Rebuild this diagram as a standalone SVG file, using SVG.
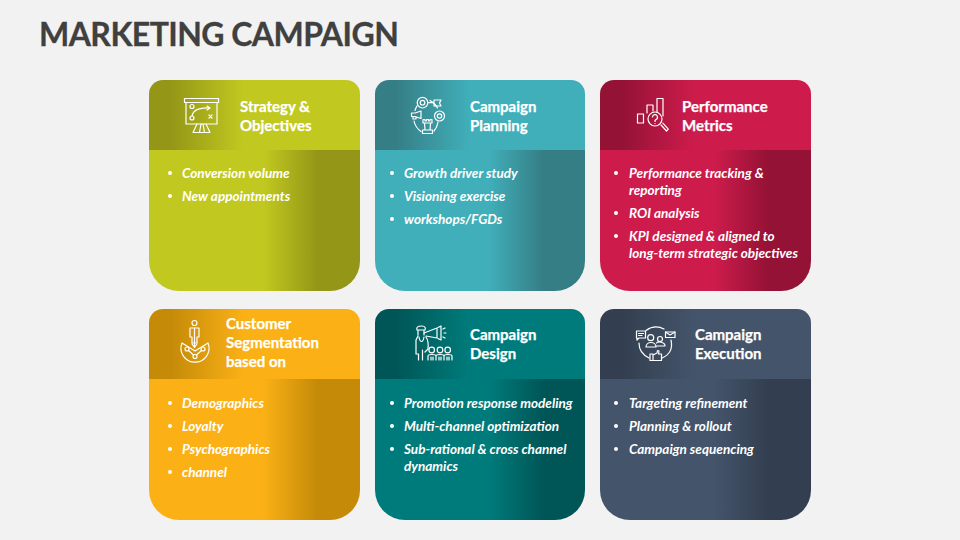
<svg xmlns="http://www.w3.org/2000/svg" width="960" height="540" viewBox="0 0 960 540">
<style>
.t{font-family:Lato,"Liberation Sans",sans-serif;font-weight:700;font-size:15px;fill:#fff;stroke:#fff;stroke-width:.25}
.b{font-family:Lato,"Liberation Sans",sans-serif;font-style:italic;font-weight:700;font-size:13.55px;fill:#fff}
.d{fill:#fff}
.i{fill:none;stroke:#fff;stroke-width:1.2;stroke-linecap:round;stroke-linejoin:round}
.title{font-family:Lato,"Liberation Sans",sans-serif;font-weight:700;font-size:32px;letter-spacing:-.55px;fill:#404040;stroke:#404040;stroke-width:.3}
</style>
<defs>
<linearGradient id="h1"><stop offset=".1" stop-color="#939617"/><stop offset=".45" stop-color="#c1c920"/></linearGradient>
<linearGradient id="b1"><stop offset=".54" stop-color="#c1c920"/><stop offset=".8" stop-color="#939617"/></linearGradient>
<linearGradient id="h2"><stop offset=".1" stop-color="#367e86"/><stop offset=".45" stop-color="#40afb9"/></linearGradient>
<linearGradient id="b2"><stop offset=".54" stop-color="#40afb9"/><stop offset=".8" stop-color="#367e86"/></linearGradient>
<linearGradient id="h3"><stop offset=".1" stop-color="#941235"/><stop offset=".45" stop-color="#cd1c4c"/></linearGradient>
<linearGradient id="b3"><stop offset=".54" stop-color="#cd1c4c"/><stop offset=".8" stop-color="#941235"/></linearGradient>
<linearGradient id="h4"><stop offset=".1" stop-color="#c48a08"/><stop offset=".45" stop-color="#fbb116"/></linearGradient>
<linearGradient id="b4"><stop offset=".54" stop-color="#fbb116"/><stop offset=".8" stop-color="#c48a08"/></linearGradient>
<linearGradient id="h5"><stop offset=".1" stop-color="#005657"/><stop offset=".45" stop-color="#007b7b"/></linearGradient>
<linearGradient id="b5"><stop offset=".54" stop-color="#007b7b"/><stop offset=".8" stop-color="#005657"/></linearGradient>
<linearGradient id="h6"><stop offset=".1" stop-color="#333f50"/><stop offset=".45" stop-color="#44546a"/></linearGradient>
<linearGradient id="b6"><stop offset=".54" stop-color="#44546a"/><stop offset=".8" stop-color="#333f50"/></linearGradient>
</defs>
<rect width="960" height="540" fill="#f2f2f2"/>
<text class="title" x="39" y="46">MARKETING CAMPAIGN</text>

<g id="node-strategy">
<path d="M149 150V94a14 14 0 0 1 14-14H346a14 14 0 0 1 14 14V150Z" fill="url(#h1)"/>
<path d="M149 150H360V261a30 30 0 0 1-30 30H179a30 30 0 0 1-30-30Z" fill="url(#b1)"/>
<g class="i"><rect x="184.500" y="98.500" width="34" height="4"/><path d="M186 102.500V124H217V102.500"/><circle cx="192" cy="106.500" r="2"/><circle cx="192" cy="118" r="2"/><path d="M192 116C193 110 200 107 210 108M207 106l3 2-3 2M209 115l3 3M212 115l-3 3"/><path d="M197 124l-4 8.500M201 124l-1.500 8.500M203 124l1.500 8.500M206 124l4 8.500M193 132.500H210"/></g>
<text class="t"><tspan x="240" y="112">Strategy &amp;</tspan><tspan x="240" y="131">Objectives</tspan></text>
<circle class="d" cx="170" cy="173" r="2"/><text class="b" x="182" y="178">Conversion volume</text>
<circle class="d" cx="170" cy="196" r="2"/><text class="b" x="182" y="201">New appointments</text>
</g>

<g id="node-planning">
<path d="M375 150V94a14 14 0 0 1 14-14H571a14 14 0 0 1 14 14V150Z" fill="url(#h2)"/>
<path d="M375 150H585V261a30 30 0 0 1-30 30H405a30 30 0 0 1-30-30Z" fill="url(#b2)"/>
<g class="i"><circle cx="422.500" cy="102.700" r="5.300"/><circle cx="422.500" cy="102.700" r="2.300"/><path d="M428 102.700H434M434 100H441L439.500 103 441 106H434Z"/><circle cx="439.500" cy="116" r="5"/><circle cx="439.500" cy="116" r="2.200"/><path d="M411.500 113H415L421 111V118.500L415 116.500H411.500ZM413 116.500V119H416V117"/><path d="M414 121A17 17 0 0 0 421 131.500M438 122A17 17 0 0 1 434 131M415 110.500A17 17 0 0 1 417 106M430 100.500A17 17 0 0 1 437.500 108"/><path d="M423 119.500V123H432V119.500H430V121H428.500V119.500H426.500V121H425V119.500ZM424.500 123L425 130H430L430.500 123M422.500 130H432.500V133.500H422.500Z"/></g>
<text class="t"><tspan x="470" y="112">Campaign</tspan><tspan x="470" y="131">Planning</tspan></text>
<circle class="d" cx="392" cy="173" r="2"/><text class="b" x="404" y="178">Growth driver study</text>
<circle class="d" cx="392" cy="196" r="2"/><text class="b" x="404" y="201">Visioning exercise</text>
<circle class="d" cx="392" cy="219" r="2"/><text class="b" x="404" y="224">workshops/FGDs</text>
</g>

<g id="node-metrics">
<path d="M600 150V94a14 14 0 0 1 14-14H797a14 14 0 0 1 14 14V150Z" fill="url(#h3)"/>
<path d="M600 150H811V261a30 30 0 0 1-30 30H630a30 30 0 0 1-30-30Z" fill="url(#b3)"/>
<g class="i"><rect x="637.500" y="114" width="6" height="9"/><path d="M647 113V105H653V111M657 112V98.500H663V116"/><circle cx="655" cy="119" r="7"/><path d="M661 125l5.500 6 1.800-1.800-5.500-6"/><path d="M652.500 117a2.500 2.500 0 1 1 3.500 2.500l-1 1v1M655 123.500v.1"/></g>
<text class="t"><tspan x="682" y="112">Performance</tspan><tspan x="682" y="131">Metrics</tspan></text>
<circle class="d" cx="616" cy="173" r="2"/><text class="b"><tspan x="629" y="178">Performance tracking &amp;</tspan><tspan x="629" y="195">reporting</tspan></text>
<circle class="d" cx="616" cy="213" r="2"/><text class="b" x="629" y="218">ROI analysis</text>
<circle class="d" cx="616" cy="236" r="2"/><text class="b"><tspan x="629" y="241">KPI designed &amp; aligned to</tspan><tspan x="629" y="258">long-term strategic objectives</tspan></text>
</g>

<g id="node-segmentation">
<path d="M149 379V323a14 14 0 0 1 14-14H346a14 14 0 0 1 14 14V379Z" fill="url(#h4)"/>
<path d="M149 379H360V490a30 30 0 0 1-30 30H179a30 30 0 0 1-30-30Z" fill="url(#b4)"/>
<g class="i"><circle cx="194.500" cy="323" r="2.500"/><path d="M190 328H199V337H197V343H192V337H190Z"/><path d="M194.500 328V347M192 344L194.500 347.500 197 344"/><path d="M182 343A14 14 0 1 0 208 343L195 351Z"/><circle cx="187" cy="349" r="2"/><circle cx="203" cy="349" r="2"/><circle cx="195" cy="356.500" r="2"/><path d="M188.500 350.500L193.500 355M201.500 350.500L196.500 355"/></g>
<text class="t"><tspan x="226" y="329">Customer</tspan><tspan x="226" y="348">Segmentation</tspan><tspan x="226" y="367">based on</tspan></text>
<circle class="d" cx="170" cy="403" r="2"/><text class="b" x="182" y="408">Demographics</text>
<circle class="d" cx="170" cy="426" r="2"/><text class="b" x="182" y="431">Loyalty</text>
<circle class="d" cx="170" cy="449" r="2"/><text class="b" x="182" y="454">Psychographics</text>
<circle class="d" cx="170" cy="472" r="2"/><text class="b" x="182" y="477">channel</text>
</g>

<g id="node-design">
<path d="M375 379V323a14 14 0 0 1 14-14H571a14 14 0 0 1 14 14V379Z" fill="url(#h5)"/>
<path d="M375 379H585V490a30 30 0 0 1-30 30H405a30 30 0 0 1-30-30Z" fill="url(#b5)"/>
<g class="i" stroke-width="1"><path d="M418 335V330H424V335M417 330C416 327 418 326 422 326 425 326 426 328 425 330Z"/><path d="M424 333L437 328V338L426 336"/><path d="M438 327.500L441 326V340L438 338.500M444 333H446M443 329L445 328M443 337L445 338"/><path d="M418 336L416 340V354H418.500V360M422.500 360V350M426 337C428 340 428.500 345 428 349L425 352"/><path d="M419 337C420 343 423 343 424 337"/><circle cx="431.700" cy="350" r="2.800"/><circle cx="440" cy="350" r="2.800"/><circle cx="447.700" cy="350" r="2.800"/><path d="M428 360V356C428 354 436 354 436 356V360M436 360V356C436 354 444 354 444 356V360M444 360V356C444 354 452 354 452 356V360M431 360V357M433 360V357M439 360V357M441 360V357M447 360V357M449 360V357"/></g>
<text class="t"><tspan x="470" y="340">Campaign</tspan><tspan x="470" y="359">Design</tspan></text>
<circle class="d" cx="392" cy="403" r="2"/><text class="b" x="404" y="408">Promotion response modeling</text>
<circle class="d" cx="392" cy="426" r="2"/><text class="b" x="404" y="431">Multi-channel optimization</text>
<circle class="d" cx="392" cy="449" r="2"/><text class="b"><tspan x="404" y="454">Sub-rational &amp; cross channel</tspan><tspan x="404" y="471">dynamics</tspan></text>
</g>

<g id="node-execution">
<path d="M600 379V323a14 14 0 0 1 14-14H797a14 14 0 0 1 14 14V379Z" fill="url(#h6)"/>
<path d="M600 379H811V490a30 30 0 0 1-30 30H630a30 30 0 0 1-30-30Z" fill="url(#b6)"/>
<g class="i"><path d="M636.500 331H645.500V338H639L637 340V338H636.500ZM638.500 333.500H643.500M638.500 335.500H642"/><rect x="665.500" y="332" width="9.500" height="5.500"/><path d="M665.500 332L670 335 675 332"/><path d="M646 330.500A17 17 0 0 1 664 329M671 340C673 349 669 355 662 358M639 343C639 350 643 355 649 358"/><circle cx="650.700" cy="337.700" r="3"/><circle cx="660" cy="339" r="2.500"/><path d="M646 347C646 341 656 341 656 347ZM656 346H665C665 342 658 341 656.500 343"/><path d="M650 354H653V360.500H650ZM653 355L657 353 657.500 350.500 659 351 658.500 354H661.500V360.500H653"/></g>
<text class="t"><tspan x="695" y="340">Campaign</tspan><tspan x="695" y="359">Execution</tspan></text>
<circle class="d" cx="616" cy="403" r="2"/><text class="b" x="629" y="408">Targeting refinement</text>
<circle class="d" cx="616" cy="426" r="2"/><text class="b" x="629" y="431">Planning &amp; rollout</text>
<circle class="d" cx="616" cy="449" r="2"/><text class="b" x="629" y="454">Campaign sequencing</text>
</g>
<g id="connectors"/>
</svg>
